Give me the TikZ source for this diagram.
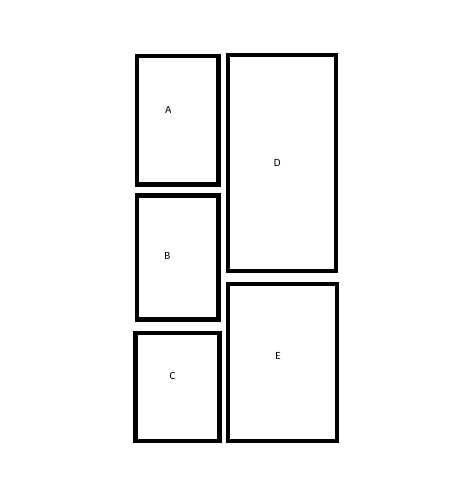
\documentclass[tikz,border=0pt]{standalone}
\usepackage{fontspec}
\setmainfont{Carlito}
\begin{document}
\begin{tikzpicture}[x=1pt,y=-1pt,
  panel/.style={draw=black,line width=4.2pt,fill=white},
  lbl/.style={font=\fontsize{11}{12}\selectfont,inner sep=0pt}]
\useasboundingbox (0,0) rectangle (474,503);
\fill[white] (0,0) rectangle (474,503);
\draw[panel] (137,56) rectangle (218.5,184.5);
\draw[panel] (137,195.5) rectangle (218.5,319.5);
\draw[panel] (135.5,333) rectangle (219.5,441);
\draw[panel] (228,55) rectangle (336,271);
\draw[panel] (228,284) rectangle (337,441);
\node[lbl] (a) at (168.3,109.5) {A};
\node[lbl] (b) at (167.3,256) {B};
\node[lbl] (c) at (172.5,376) {C};
\node[lbl] (d) at (277.3,163.3) {D};
\node[lbl] (e) at (278,356) {E};
\end{tikzpicture}
\end{document}
